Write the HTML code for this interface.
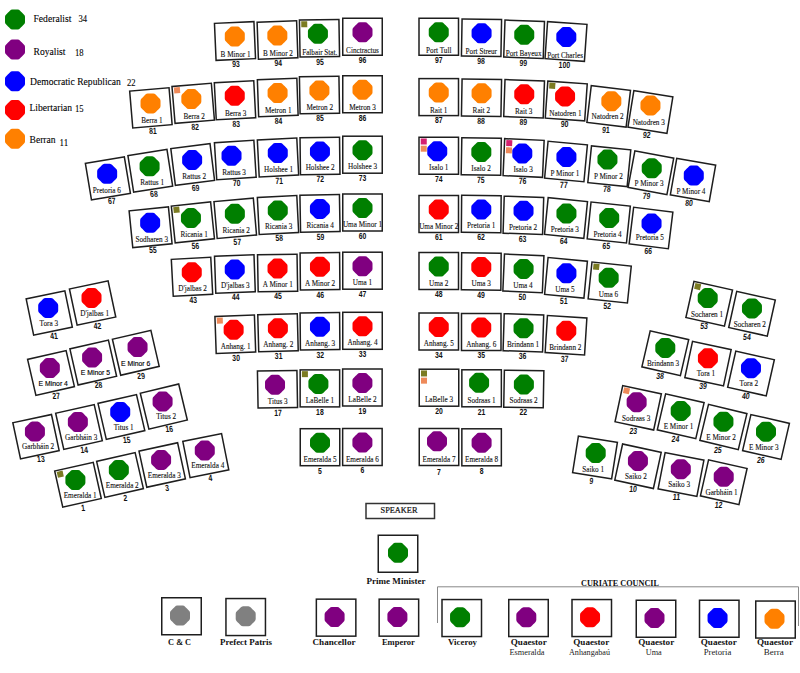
<!DOCTYPE html>
<html><head><meta charset="utf-8"><style>
html,body{margin:0;padding:0;background:#fff;}
svg{display:block;}
.bx{fill:#fff;stroke:#1e1e1e;stroke-width:1.5;}
.lb{font-family:"Liberation Serif",serif;font-size:8px;text-anchor:middle;fill:#111;stroke:#111;stroke-width:0.12;}
.ls{font-family:"Liberation Sans",sans-serif;font-size:7.5px;text-anchor:middle;fill:#000;stroke:#000;stroke-width:0.15;}
.nm{font-family:"Liberation Sans",sans-serif;font-weight:bold;font-size:9px;text-anchor:middle;fill:#111;}
.bl{font-family:"Liberation Serif",serif;font-weight:bold;font-size:8.6px;text-anchor:middle;fill:#111;}
.sb{font-family:"Liberation Serif",serif;font-size:9px;text-anchor:middle;fill:#222;}
.sp{font-family:"Liberation Serif",serif;font-size:8px;text-anchor:middle;fill:#111;stroke:#111;stroke-width:0.2;}
.cc{font-family:"Liberation Serif",serif;font-weight:bold;font-size:9px;fill:#111;}
.lg{font-family:"Liberation Serif",serif;font-size:10.5px;fill:#000;stroke:#000;stroke-width:0.1;}
</style></head><body>
<svg width="800" height="673" viewBox="0 0 800 673">
<defs><polygon id="oc" points="10.00,0.00 10.00,1.32 10.00,2.68 9.70,4.02 8.81,5.09 7.86,6.04 6.95,6.95 6.04,7.86 5.09,8.81 4.02,9.70 2.68,10.00 1.32,10.00 0.00,10.00 -1.32,10.00 -2.68,10.00 -4.02,9.70 -5.09,8.81 -6.04,7.86 -6.95,6.95 -7.86,6.04 -8.81,5.09 -9.70,4.02 -10.00,2.68 -10.00,1.32 -10.00,0.00 -10.00,-1.32 -10.00,-2.68 -9.70,-4.02 -8.81,-5.09 -7.86,-6.04 -6.95,-6.95 -6.04,-7.86 -5.09,-8.81 -4.02,-9.70 -2.68,-10.00 -1.32,-10.00 -0.00,-10.00 1.32,-10.00 2.68,-10.00 4.02,-9.70 5.09,-8.81 6.04,-7.86 6.95,-6.95 7.86,-6.04 8.81,-5.09 9.70,-4.02 10.00,-2.68 10.00,-1.32"/></defs>
<use href="#oc" x="15.00" y="19.50" fill="#007f00"/><text x="33.5" y="21.5" class="lg" textLength="37.9" lengthAdjust="spacingAndGlyphs">Federalist</text><text x="78.5" y="22.0" class="lg" textLength="8.6" lengthAdjust="spacingAndGlyphs">34</text><use href="#oc" x="15.00" y="49.50" fill="#800080"/><text x="33.5" y="54.5" class="lg" textLength="32.0" lengthAdjust="spacingAndGlyphs">Royalist</text><text x="75" y="56.0" class="lg" textLength="8.6" lengthAdjust="spacingAndGlyphs">18</text><use href="#oc" x="15.00" y="81.25" fill="#0000ff"/><text x="30" y="84.75" class="lg" textLength="90.9" lengthAdjust="spacingAndGlyphs">Democratic Republican</text><text x="127" y="85.75" class="lg" textLength="8.6" lengthAdjust="spacingAndGlyphs">22</text><use href="#oc" x="15.00" y="110.00" fill="#ff0000"/><text x="29.5" y="111.0" class="lg" textLength="42.6" lengthAdjust="spacingAndGlyphs">Libertarian</text><text x="75" y="112.0" class="lg" textLength="8.6" lengthAdjust="spacingAndGlyphs">15</text><use href="#oc" x="15.00" y="138.75" fill="#ff8000"/><text x="29.5" y="142.75" class="lg" textLength="26.1" lengthAdjust="spacingAndGlyphs">Berran</text><text x="59.5" y="145.75" class="lg" textLength="8.6" lengthAdjust="spacingAndGlyphs">11</text>
<g transform="translate(235,41) rotate(-2.5)"><rect x="-19.75" y="-18.5" width="39.5" height="37.0" class="bx"/><g transform="rotate(2.5 0 -4.5)"><use href="#oc" x="0.00" y="-4.50" fill="#ff8000"/></g><g transform="translate(0,13.5) rotate(2.5)"><text x="0" y="3" class="lb" textLength="30.0" lengthAdjust="spacingAndGlyphs">B Minor 1</text></g><g transform="translate(0,23.3) rotate(2.5) skewX(1.25)"><text x="0" y="3" class="nm" textLength="7.6" lengthAdjust="spacingAndGlyphs">93</text></g></g>
<g transform="translate(277.5,40) rotate(-2)"><rect x="-19.75" y="-18.5" width="39.5" height="37.0" class="bx"/><g transform="rotate(2 0 -4.5)"><use href="#oc" x="0.00" y="-4.50" fill="#ff8000"/></g><g transform="translate(0,13.5) rotate(2)"><text x="0" y="3" class="lb" textLength="30.0" lengthAdjust="spacingAndGlyphs">B Minor 2</text></g><g transform="translate(0,23.3) rotate(2) skewX(1.0)"><text x="0" y="3" class="nm" textLength="7.6" lengthAdjust="spacingAndGlyphs">94</text></g></g>
<g transform="translate(319.5,38.25) rotate(-1)"><rect x="-19.75" y="-18.5" width="39.5" height="37.0" class="bx"/><rect x="-18.0" y="-17.25" width="6" height="6" fill="#7b7b22"/><g transform="rotate(1 -1.5 -4.5)"><use href="#oc" x="-1.50" y="-4.50" fill="#007f00"/></g><g transform="translate(0,13.5) rotate(1)"><text x="0" y="3" class="lb" textLength="35.2" lengthAdjust="spacingAndGlyphs">Falbair Stat.</text></g><g transform="translate(0,23.3) rotate(1) skewX(0.5)"><text x="0" y="3" class="nm" textLength="7.6" lengthAdjust="spacingAndGlyphs">95</text></g></g>
<g transform="translate(362.5,36.75) rotate(0)"><rect x="-19.75" y="-18.5" width="39.5" height="37.0" class="bx"/><g transform="rotate(0 0 -4.5)"><use href="#oc" x="0.00" y="-4.50" fill="#800080"/></g><g transform="translate(0,13.5) rotate(0)"><text x="0" y="3" class="lb" textLength="32.8" lengthAdjust="spacingAndGlyphs">Cinctractus</text></g><g transform="translate(0,23.3) rotate(0) skewX(0.0)"><text x="0" y="3" class="nm" textLength="7.6" lengthAdjust="spacingAndGlyphs">96</text></g></g>
<g transform="translate(438.75,36.75) rotate(0)"><rect x="-19.75" y="-18.5" width="39.5" height="37.0" class="bx"/><g transform="rotate(0 0 -4.5)"><use href="#oc" x="0.00" y="-4.50" fill="#007f00"/></g><g transform="translate(0,13.5) rotate(0)"><text x="0" y="3" class="lb" textLength="25.4" lengthAdjust="spacingAndGlyphs">Port Tull</text></g><g transform="translate(0,23.3) rotate(0) skewX(0.0)"><text x="0" y="3" class="nm" textLength="7.6" lengthAdjust="spacingAndGlyphs">97</text></g></g>
<g transform="translate(481.5,37.75) rotate(1)"><rect x="-19.75" y="-18.5" width="39.5" height="37.0" class="bx"/><g transform="rotate(-1 0 -4.5)"><use href="#oc" x="0.00" y="-4.50" fill="#0000ff"/></g><g transform="translate(0,13.5) rotate(-1)"><text x="0" y="3" class="lb" textLength="31.4" lengthAdjust="spacingAndGlyphs">Port Streur</text></g><g transform="translate(0,23.3) rotate(-1) skewX(-0.5)"><text x="0" y="3" class="nm" textLength="7.6" lengthAdjust="spacingAndGlyphs">98</text></g></g>
<g transform="translate(524.1,39.25) rotate(2)"><rect x="-19.75" y="-18.5" width="39.5" height="37.0" class="bx"/><g transform="rotate(-2 0 -4.5)"><use href="#oc" x="0.00" y="-4.50" fill="#007f00"/></g><g transform="translate(0,13.5) rotate(-2)"><text x="0" y="3" class="lb" textLength="35.8" lengthAdjust="spacingAndGlyphs">Port Bayeux</text></g><g transform="translate(0,23.3) rotate(-2) skewX(-1.0)"><text x="0" y="3" class="nm" textLength="7.6" lengthAdjust="spacingAndGlyphs">99</text></g></g>
<g transform="translate(566,41.5) rotate(4)"><rect x="-19.75" y="-18.5" width="39.5" height="37.0" class="bx"/><g transform="rotate(-4 0 -4.5)"><use href="#oc" x="0.00" y="-4.50" fill="#0000ff"/></g><g transform="translate(0,13.5) rotate(-4)"><text x="0" y="3" class="lb" textLength="35.8" lengthAdjust="spacingAndGlyphs">Port Charles</text></g><g transform="translate(0,23.3) rotate(-4) skewX(-2.0)"><text x="0" y="3" class="nm" textLength="11.4" lengthAdjust="spacingAndGlyphs">100</text></g></g>
<g transform="translate(150.9,107.9) rotate(-4.8)"><rect x="-19.75" y="-18.5" width="39.5" height="37.0" class="bx"/><g transform="rotate(4.8 0 -4.5)"><use href="#oc" x="0.00" y="-4.50" fill="#ff8000"/></g><g transform="translate(0,12.5) rotate(4.8)"><text x="0" y="3" class="lb" textLength="21.4" lengthAdjust="spacingAndGlyphs">Berra 1</text></g><g transform="translate(0,23.3) rotate(4.8) skewX(2.4)"><text x="0" y="3" class="nm" textLength="7.6" lengthAdjust="spacingAndGlyphs">81</text></g></g>
<g transform="translate(193.2,103.3) rotate(-4.8)"><rect x="-19.75" y="-18.5" width="39.5" height="37.0" class="bx"/><rect x="-18.0" y="-17.25" width="6" height="6" fill="#ee8a5a"/><g transform="rotate(4.8 -1.5 -4.5)"><use href="#oc" x="-1.50" y="-4.50" fill="#ff8000"/></g><g transform="translate(0,12.5) rotate(4.8)"><text x="0" y="3" class="lb" textLength="21.4" lengthAdjust="spacingAndGlyphs">Berra 2</text></g><g transform="translate(0,23.3) rotate(4.8) skewX(2.4)"><text x="0" y="3" class="nm" textLength="7.6" lengthAdjust="spacingAndGlyphs">82</text></g></g>
<g transform="translate(235,100.25) rotate(-3)"><rect x="-19.75" y="-18.5" width="39.5" height="37.0" class="bx"/><g transform="rotate(3 0 -4.5)"><use href="#oc" x="0.00" y="-4.50" fill="#ff0000"/></g><g transform="translate(0,12.5) rotate(3)"><text x="0" y="3" class="lb" textLength="21.4" lengthAdjust="spacingAndGlyphs">Berra 3</text></g><g transform="translate(0,23.3) rotate(3) skewX(1.5)"><text x="0" y="3" class="nm" textLength="7.6" lengthAdjust="spacingAndGlyphs">83</text></g></g>
<g transform="translate(277.75,97.5) rotate(-2)"><rect x="-19.75" y="-18.5" width="39.5" height="37.0" class="bx"/><g transform="rotate(2 0 -4.5)"><use href="#oc" x="0.00" y="-4.50" fill="#ff8000"/></g><g transform="translate(0,12.5) rotate(2)"><text x="0" y="3" class="lb" textLength="26.6" lengthAdjust="spacingAndGlyphs">Metron 1</text></g><g transform="translate(0,23.3) rotate(2) skewX(1.0)"><text x="0" y="3" class="nm" textLength="7.6" lengthAdjust="spacingAndGlyphs">84</text></g></g>
<g transform="translate(319.5,95) rotate(-1)"><rect x="-19.75" y="-18.5" width="39.5" height="37.0" class="bx"/><g transform="rotate(1 0 -4.5)"><use href="#oc" x="0.00" y="-4.50" fill="#ff8000"/></g><g transform="translate(0,12.5) rotate(1)"><text x="0" y="3" class="lb" textLength="26.6" lengthAdjust="spacingAndGlyphs">Metron 2</text></g><g transform="translate(0,23.3) rotate(1) skewX(0.5)"><text x="0" y="3" class="nm" textLength="7.6" lengthAdjust="spacingAndGlyphs">85</text></g></g>
<g transform="translate(362.5,94.25) rotate(0)"><rect x="-19.75" y="-18.5" width="39.5" height="37.0" class="bx"/><g transform="rotate(0 0 -4.5)"><use href="#oc" x="0.00" y="-4.50" fill="#ff8000"/></g><g transform="translate(0,12.5) rotate(0)"><text x="0" y="3" class="lb" textLength="26.6" lengthAdjust="spacingAndGlyphs">Metron 3</text></g><g transform="translate(0,23.3) rotate(0) skewX(0.0)"><text x="0" y="3" class="nm" textLength="7.6" lengthAdjust="spacingAndGlyphs">86</text></g></g>
<g transform="translate(438.75,97.1) rotate(0)"><rect x="-19.75" y="-18.5" width="39.5" height="37.0" class="bx"/><g transform="rotate(0 0 -4.5)"><use href="#oc" x="0.00" y="-4.50" fill="#ff8000"/></g><g transform="translate(0,12.5) rotate(0)"><text x="0" y="3" class="lb" textLength="17.4" lengthAdjust="spacingAndGlyphs">Rait 1</text></g><g transform="translate(0,23.3) rotate(0) skewX(0.0)"><text x="0" y="3" class="nm" textLength="7.6" lengthAdjust="spacingAndGlyphs">87</text></g></g>
<g transform="translate(481.5,97.75) rotate(1)"><rect x="-19.75" y="-18.5" width="39.5" height="37.0" class="bx"/><g transform="rotate(-1 0 -4.5)"><use href="#oc" x="0.00" y="-4.50" fill="#ff8000"/></g><g transform="translate(0,12.5) rotate(-1)"><text x="0" y="3" class="lb" textLength="17.4" lengthAdjust="spacingAndGlyphs">Rait 2</text></g><g transform="translate(0,23.3) rotate(-1) skewX(-0.5)"><text x="0" y="3" class="nm" textLength="7.6" lengthAdjust="spacingAndGlyphs">88</text></g></g>
<g transform="translate(524.1,98.75) rotate(2)"><rect x="-19.75" y="-18.5" width="39.5" height="37.0" class="bx"/><g transform="rotate(-2 0 -4.5)"><use href="#oc" x="0.00" y="-4.50" fill="#ff0000"/></g><g transform="translate(0,12.5) rotate(-2)"><text x="0" y="3" class="lb" textLength="17.4" lengthAdjust="spacingAndGlyphs">Rait 3</text></g><g transform="translate(0,23.3) rotate(-2) skewX(-1.0)"><text x="0" y="3" class="nm" textLength="7.6" lengthAdjust="spacingAndGlyphs">89</text></g></g>
<g transform="translate(566.25,101) rotate(4)"><rect x="-19.75" y="-18.5" width="39.5" height="37.0" class="bx"/><rect x="-18.0" y="-17.25" width="6" height="6" fill="#7b7b22"/><g transform="rotate(-4 -1.5 -4.5)"><use href="#oc" x="-1.50" y="-4.50" fill="#ff0000"/></g><g transform="translate(0,12.5) rotate(-4)"><text x="0" y="3" class="lb" textLength="32.2" lengthAdjust="spacingAndGlyphs">Natodren 1</text></g><g transform="translate(0,23.3) rotate(-4) skewX(-2.0)"><text x="0" y="3" class="nm" textLength="7.6" lengthAdjust="spacingAndGlyphs">90</text></g></g>
<g transform="translate(608.7,106.4) rotate(6.8)"><rect x="-19.75" y="-18.5" width="39.5" height="37.0" class="bx"/><g transform="rotate(-6.8 2 -5.5)"><use href="#oc" x="2.00" y="-5.50" fill="#ff8000"/></g><g transform="translate(0,9.5) rotate(-6.8)"><text x="0" y="3" class="lb" textLength="32.2" lengthAdjust="spacingAndGlyphs">Natodren 2</text></g><g transform="translate(0,23.3) rotate(-6.8) skewX(-3.4)"><text x="0" y="3" class="nm" textLength="7.6" lengthAdjust="spacingAndGlyphs">91</text></g></g>
<g transform="translate(650.4,112) rotate(9.2)"><rect x="-19.75" y="-18.5" width="39.5" height="37.0" class="bx"/><g transform="rotate(-9.2 -1 -6.5)"><use href="#oc" x="-1.00" y="-6.50" fill="#ff8000"/></g><g transform="translate(0,10.5) rotate(-9.2)"><text x="0" y="3" class="lb" textLength="32.2" lengthAdjust="spacingAndGlyphs">Natodren 3</text></g><g transform="translate(0,23.3) rotate(-9.2) skewX(-4.6)"><text x="0" y="3" class="nm" textLength="7.6" lengthAdjust="spacingAndGlyphs">92</text></g></g>
<g transform="translate(107.9,178.3) rotate(-9.5)"><rect x="-19.75" y="-18.5" width="39.5" height="37.0" class="bx"/><g transform="rotate(9.5 0 -4.5)"><use href="#oc" x="0.00" y="-4.50" fill="#0000ff"/></g><g transform="translate(-3,11.5) rotate(9.5)"><text x="0" y="3" class="lb" textLength="28.2" lengthAdjust="spacingAndGlyphs">Pretoria 6</text></g><g transform="translate(0,23.3) rotate(9.5) skewX(4.75)"><text x="0" y="3" class="nm" textLength="7.6" lengthAdjust="spacingAndGlyphs">67</text></g></g>
<g transform="translate(150.3,170.8) rotate(-8.9)"><rect x="-19.75" y="-18.5" width="39.5" height="37.0" class="bx"/><g transform="rotate(8.9 0 -4.5)"><use href="#oc" x="0.00" y="-4.50" fill="#007f00"/></g><g transform="translate(0,11.5) rotate(8.9)"><text x="0" y="3" class="lb" textLength="23.8" lengthAdjust="spacingAndGlyphs">Rattus 1</text></g><g transform="translate(0,23.3) rotate(8.9) skewX(4.45)"><text x="0" y="3" class="nm" textLength="7.6" lengthAdjust="spacingAndGlyphs">68</text></g></g>
<g transform="translate(192.7,164.5) rotate(-7.1)"><rect x="-19.75" y="-18.5" width="39.5" height="37.0" class="bx"/><g transform="rotate(7.1 0 -4.5)"><use href="#oc" x="0.00" y="-4.50" fill="#0000ff"/></g><g transform="translate(0,11.5) rotate(7.1)"><text x="0" y="3" class="lb" textLength="23.8" lengthAdjust="spacingAndGlyphs">Rattus 2</text></g><g transform="translate(0,23.3) rotate(7.1) skewX(3.55)"><text x="0" y="3" class="nm" textLength="7.6" lengthAdjust="spacingAndGlyphs">69</text></g></g>
<g transform="translate(235.3,160) rotate(-3.6)"><rect x="-19.75" y="-18.5" width="39.5" height="37.0" class="bx"/><g transform="rotate(3.6 -3.5 -4.5)"><use href="#oc" x="-3.50" y="-4.50" fill="#0000ff"/></g><g transform="translate(-2,11.5) rotate(3.6)"><text x="0" y="3" class="lb" textLength="23.8" lengthAdjust="spacingAndGlyphs">Rattus 3</text></g><g transform="translate(0,23.3) rotate(3.6) skewX(1.8)"><text x="0" y="3" class="nm" textLength="7.6" lengthAdjust="spacingAndGlyphs">70</text></g></g>
<g transform="translate(278,157.5) rotate(-2.9)"><rect x="-19.75" y="-18.5" width="39.5" height="37.0" class="bx"/><g transform="rotate(2.9 0 -4.5)"><use href="#oc" x="0.00" y="-4.50" fill="#0000ff"/></g><g transform="translate(0,11.5) rotate(2.9)"><text x="0" y="3" class="lb" textLength="29.0" lengthAdjust="spacingAndGlyphs">Holshee 1</text></g><g transform="translate(0,23.3) rotate(2.9) skewX(1.45)"><text x="0" y="3" class="nm" textLength="7.6" lengthAdjust="spacingAndGlyphs">71</text></g></g>
<g transform="translate(320,156) rotate(-0.7)"><rect x="-19.75" y="-18.5" width="39.5" height="37.0" class="bx"/><g transform="rotate(0.7 0 -4.5)"><use href="#oc" x="0.00" y="-4.50" fill="#0000ff"/></g><g transform="translate(0,11.5) rotate(0.7)"><text x="0" y="3" class="lb" textLength="29.0" lengthAdjust="spacingAndGlyphs">Holshee 2</text></g><g transform="translate(0,23.3) rotate(0.7) skewX(0.35)"><text x="0" y="3" class="nm" textLength="7.6" lengthAdjust="spacingAndGlyphs">72</text></g></g>
<g transform="translate(362.5,154.7) rotate(0)"><rect x="-19.75" y="-18.5" width="39.5" height="37.0" class="bx"/><g transform="rotate(0 0 -4.5)"><use href="#oc" x="0.00" y="-4.50" fill="#007f00"/></g><g transform="translate(0,11.5) rotate(0)"><text x="0" y="3" class="lb" textLength="29.0" lengthAdjust="spacingAndGlyphs">Holshee 3</text></g><g transform="translate(0,23.3) rotate(0) skewX(0.0)"><text x="0" y="3" class="nm" textLength="7.6" lengthAdjust="spacingAndGlyphs">73</text></g></g>
<g transform="translate(438.75,155.75) rotate(0)"><rect x="-19.75" y="-18.5" width="39.5" height="37.0" class="bx"/><rect x="-18.0" y="-17.25" width="6" height="6" fill="#d42070"/><rect x="-18.0" y="-10.05" width="6" height="6" fill="#ee8a5a"/><g transform="rotate(0 -1.5 -4.5)"><use href="#oc" x="-1.50" y="-4.50" fill="#0000ff"/></g><g transform="translate(0,11.5) rotate(0)"><text x="0" y="3" class="lb" textLength="19.4" lengthAdjust="spacingAndGlyphs">Isalo 1</text></g><g transform="translate(0,23.3) rotate(0) skewX(0.0)"><text x="0" y="3" class="nm" textLength="7.6" lengthAdjust="spacingAndGlyphs">74</text></g></g>
<g transform="translate(481.25,156.5) rotate(1)"><rect x="-19.75" y="-18.5" width="39.5" height="37.0" class="bx"/><g transform="rotate(-1 0 -4.5)"><use href="#oc" x="0.00" y="-4.50" fill="#007f00"/></g><g transform="translate(0,11.5) rotate(-1)"><text x="0" y="3" class="lb" textLength="19.4" lengthAdjust="spacingAndGlyphs">Isalo 2</text></g><g transform="translate(0,23.3) rotate(-1) skewX(-0.5)"><text x="0" y="3" class="nm" textLength="7.6" lengthAdjust="spacingAndGlyphs">75</text></g></g>
<g transform="translate(523.6,158) rotate(2.5)"><rect x="-19.75" y="-18.5" width="39.5" height="37.0" class="bx"/><rect x="-18.0" y="-17.25" width="6" height="6" fill="#d42070"/><rect x="-18.0" y="-10.05" width="6" height="6" fill="#ee8a5a"/><g transform="rotate(-2.5 -1.5 -4.5)"><use href="#oc" x="-1.50" y="-4.50" fill="#0000ff"/></g><g transform="translate(0,11.5) rotate(-2.5)"><text x="0" y="3" class="lb" textLength="19.4" lengthAdjust="spacingAndGlyphs">Isalo 3</text></g><g transform="translate(0,23.3) rotate(-2.5) skewX(-1.25)"><text x="0" y="3" class="nm" textLength="7.6" lengthAdjust="spacingAndGlyphs">76</text></g></g>
<g transform="translate(566,161.5) rotate(5.4)"><rect x="-19.75" y="-18.5" width="39.5" height="37.0" class="bx"/><g transform="rotate(-5.4 0 -4.5)"><use href="#oc" x="0.00" y="-4.50" fill="#0000ff"/></g><g transform="translate(0,11.5) rotate(-5.4)"><text x="0" y="3" class="lb" textLength="28.9" lengthAdjust="spacingAndGlyphs">P Minor 1</text></g><g transform="translate(0,23.3) rotate(-5.4) skewX(-2.7)"><text x="0" y="3" class="nm" textLength="7.6" lengthAdjust="spacingAndGlyphs">77</text></g></g>
<g transform="translate(609.3,166.25) rotate(5.7)"><rect x="-19.75" y="-18.5" width="39.5" height="37.0" class="bx"/><g transform="rotate(-5.7 -2.5 -6.5)"><use href="#oc" x="-2.50" y="-6.50" fill="#007f00"/></g><g transform="translate(0,9.5) rotate(-5.7)"><text x="0" y="3" class="lb" textLength="28.9" lengthAdjust="spacingAndGlyphs">P Minor 2</text></g><g transform="translate(0,23.3) rotate(-5.7) skewX(-2.85)"><text x="0" y="3" class="nm" textLength="7.6" lengthAdjust="spacingAndGlyphs">78</text></g></g>
<g transform="translate(650.9,172.75) rotate(10.6)"><rect x="-19.75" y="-18.5" width="39.5" height="37.0" class="bx"/><g transform="rotate(-10.6 0 -4.5)"><use href="#oc" x="0.00" y="-4.50" fill="#007f00"/></g><g transform="translate(0,10.0) rotate(-10.6)"><text x="0" y="3" class="lb" textLength="28.9" lengthAdjust="spacingAndGlyphs">P Minor 3</text></g><g transform="translate(0,23.3) rotate(-10.6) skewX(-5.3)"><text x="0" y="3" class="nm" textLength="7.6" lengthAdjust="spacingAndGlyphs">79</text></g></g>
<g transform="translate(693,180) rotate(10)"><rect x="-19.75" y="-18.5" width="39.5" height="37.0" class="bx"/><g transform="rotate(-10 0 -4.5)"><use href="#oc" x="0.00" y="-4.50" fill="#0000ff"/></g><g transform="translate(0,11.5) rotate(-10)"><text x="0" y="3" class="lb" textLength="28.9" lengthAdjust="spacingAndGlyphs">P Minor 4</text></g><g transform="translate(0,23.3) rotate(-10) skewX(-5.0)"><text x="0" y="3" class="nm" textLength="7.6" lengthAdjust="spacingAndGlyphs">80</text></g></g>
<g transform="translate(150.6,227.3) rotate(-5.7)"><rect x="-19.75" y="-18.5" width="39.5" height="37.0" class="bx"/><g transform="rotate(5.7 0 -4.5)"><use href="#oc" x="0.00" y="-4.50" fill="#0000ff"/></g><g transform="translate(0,11.5) rotate(5.7)"><text x="0" y="3" class="lb" textLength="32.6" lengthAdjust="spacingAndGlyphs">Sodharen 3</text></g><g transform="translate(0,23.3) rotate(5.7) skewX(2.85)"><text x="0" y="3" class="nm" textLength="7.6" lengthAdjust="spacingAndGlyphs">55</text></g></g>
<g transform="translate(192.9,222.4) rotate(-6)"><rect x="-19.75" y="-18.5" width="39.5" height="37.0" class="bx"/><rect x="-18.0" y="-17.25" width="6" height="6" fill="#7b7b22"/><g transform="rotate(6 -1.5 -4.5)"><use href="#oc" x="-1.50" y="-4.50" fill="#007f00"/></g><g transform="translate(0,11.5) rotate(6)"><text x="0" y="3" class="lb" textLength="27.4" lengthAdjust="spacingAndGlyphs">Ricania 1</text></g><g transform="translate(0,23.3) rotate(6) skewX(3.0)"><text x="0" y="3" class="nm" textLength="7.6" lengthAdjust="spacingAndGlyphs">56</text></g></g>
<g transform="translate(235.25,218.3) rotate(-5)"><rect x="-19.75" y="-18.5" width="39.5" height="37.0" class="bx"/><g transform="rotate(5 0 -4.5)"><use href="#oc" x="0.00" y="-4.50" fill="#007f00"/></g><g transform="translate(0,11.5) rotate(5)"><text x="0" y="3" class="lb" textLength="27.4" lengthAdjust="spacingAndGlyphs">Ricania 2</text></g><g transform="translate(0,23.3) rotate(5) skewX(2.5)"><text x="0" y="3" class="nm" textLength="7.6" lengthAdjust="spacingAndGlyphs">57</text></g></g>
<g transform="translate(278,215) rotate(-2.9)"><rect x="-19.75" y="-18.5" width="39.5" height="37.0" class="bx"/><g transform="rotate(2.9 0 -4.5)"><use href="#oc" x="0.00" y="-4.50" fill="#007f00"/></g><g transform="translate(0,11.5) rotate(2.9)"><text x="0" y="3" class="lb" textLength="27.4" lengthAdjust="spacingAndGlyphs">Ricania 3</text></g><g transform="translate(0,23.3) rotate(2.9) skewX(1.45)"><text x="0" y="3" class="nm" textLength="7.6" lengthAdjust="spacingAndGlyphs">58</text></g></g>
<g transform="translate(320,213.4) rotate(-1)"><rect x="-19.75" y="-18.5" width="39.5" height="37.0" class="bx"/><g transform="rotate(1 0 -4.5)"><use href="#oc" x="0.00" y="-4.50" fill="#0000ff"/></g><g transform="translate(0,11.5) rotate(1)"><text x="0" y="3" class="lb" textLength="27.4" lengthAdjust="spacingAndGlyphs">Ricania 4</text></g><g transform="translate(0,23.3) rotate(1) skewX(0.5)"><text x="0" y="3" class="nm" textLength="7.6" lengthAdjust="spacingAndGlyphs">59</text></g></g>
<g transform="translate(362.5,212.5) rotate(0)"><rect x="-19.75" y="-18.5" width="39.5" height="37.0" class="bx"/><g transform="rotate(0 0 -4.5)"><use href="#oc" x="0.00" y="-4.50" fill="#007f00"/></g><g transform="translate(0,11.5) rotate(0)"><text x="0" y="3" class="lb" textLength="39.2" lengthAdjust="spacingAndGlyphs">Uma Minor 1</text></g><g transform="translate(0,23.3) rotate(0) skewX(0.0)"><text x="0" y="3" class="nm" textLength="7.6" lengthAdjust="spacingAndGlyphs">60</text></g></g>
<g transform="translate(438.75,214) rotate(0)"><rect x="-19.75" y="-18.5" width="39.5" height="37.0" class="bx"/><g transform="rotate(0 0 -4.5)"><use href="#oc" x="0.00" y="-4.50" fill="#ff0000"/></g><g transform="translate(0,11.5) rotate(0)"><text x="0" y="3" class="lb" textLength="39.2" lengthAdjust="spacingAndGlyphs">Uma Minor 2</text></g><g transform="translate(0,23.3) rotate(0) skewX(0.0)"><text x="0" y="3" class="nm" textLength="7.6" lengthAdjust="spacingAndGlyphs">61</text></g></g>
<g transform="translate(481.25,214) rotate(0.5)"><rect x="-19.75" y="-18.5" width="39.5" height="37.0" class="bx"/><g transform="rotate(-0.5 0 -4.5)"><use href="#oc" x="0.00" y="-4.50" fill="#0000ff"/></g><g transform="translate(0,11.5) rotate(-0.5)"><text x="0" y="3" class="lb" textLength="28.2" lengthAdjust="spacingAndGlyphs">Pretoria 1</text></g><g transform="translate(0,23.3) rotate(-0.5) skewX(-0.25)"><text x="0" y="3" class="nm" textLength="7.6" lengthAdjust="spacingAndGlyphs">62</text></g></g>
<g transform="translate(523.4,215.3) rotate(1.8)"><rect x="-19.75" y="-18.5" width="39.5" height="37.0" class="bx"/><g transform="rotate(-1.8 0 -4.5)"><use href="#oc" x="0.00" y="-4.50" fill="#0000ff"/></g><g transform="translate(0,11.5) rotate(-1.8)"><text x="0" y="3" class="lb" textLength="28.2" lengthAdjust="spacingAndGlyphs">Pretoria 2</text></g><g transform="translate(0,23.3) rotate(-1.8) skewX(-0.9)"><text x="0" y="3" class="nm" textLength="7.6" lengthAdjust="spacingAndGlyphs">63</text></g></g>
<g transform="translate(566,218) rotate(5.7)"><rect x="-19.75" y="-18.5" width="39.5" height="37.0" class="bx"/><g transform="rotate(-5.7 0 -4.5)"><use href="#oc" x="0.00" y="-4.50" fill="#007f00"/></g><g transform="translate(0,11.5) rotate(-5.7)"><text x="0" y="3" class="lb" textLength="28.2" lengthAdjust="spacingAndGlyphs">Pretoria 3</text></g><g transform="translate(0,23.3) rotate(-5.7) skewX(-2.85)"><text x="0" y="3" class="nm" textLength="7.6" lengthAdjust="spacingAndGlyphs">64</text></g></g>
<g transform="translate(608.75,222.5) rotate(6)"><rect x="-19.75" y="-18.5" width="39.5" height="37.0" class="bx"/><g transform="rotate(-6 0 -4.5)"><use href="#oc" x="0.00" y="-4.50" fill="#007f00"/></g><g transform="translate(0,11.5) rotate(-6)"><text x="0" y="3" class="lb" textLength="28.2" lengthAdjust="spacingAndGlyphs">Pretoria 4</text></g><g transform="translate(0,23.3) rotate(-6) skewX(-3.0)"><text x="0" y="3" class="nm" textLength="7.6" lengthAdjust="spacingAndGlyphs">65</text></g></g>
<g transform="translate(651,228) rotate(7)"><rect x="-19.75" y="-18.5" width="39.5" height="37.0" class="bx"/><g transform="rotate(-7 0 -4.5)"><use href="#oc" x="0.00" y="-4.50" fill="#0000ff"/></g><g transform="translate(0,9.5) rotate(-7)"><text x="0" y="3" class="lb" textLength="28.2" lengthAdjust="spacingAndGlyphs">Pretoria 5</text></g><g transform="translate(0,23.3) rotate(-7) skewX(-3.5)"><text x="0" y="3" class="nm" textLength="7.6" lengthAdjust="spacingAndGlyphs">66</text></g></g>
<g transform="translate(192,276.8) rotate(-3)"><rect x="-19.75" y="-18.5" width="39.5" height="37.0" class="bx"/><g transform="rotate(3 0 -4.5)"><use href="#oc" x="0.00" y="-4.50" fill="#ff0000"/></g><g transform="translate(0,11.5) rotate(3)"><text x="0" y="3" class="lb" textLength="28.7" lengthAdjust="spacingAndGlyphs">D&#39;jalbas 2</text></g><g transform="translate(0,23.3) rotate(3) skewX(1.5)"><text x="0" y="3" class="nm" textLength="7.6" lengthAdjust="spacingAndGlyphs">43</text></g></g>
<g transform="translate(234.9,274) rotate(-2)"><rect x="-19.75" y="-18.5" width="39.5" height="37.0" class="bx"/><g transform="rotate(2 0 -4.5)"><use href="#oc" x="0.00" y="-4.50" fill="#0000ff"/></g><g transform="translate(0,11.5) rotate(2)"><text x="0" y="3" class="lb" textLength="28.7" lengthAdjust="spacingAndGlyphs">D&#39;jalbas 3</text></g><g transform="translate(0,23.3) rotate(2) skewX(1.0)"><text x="0" y="3" class="nm" textLength="7.6" lengthAdjust="spacingAndGlyphs">44</text></g></g>
<g transform="translate(277.6,273) rotate(-1)"><rect x="-19.75" y="-18.5" width="39.5" height="37.0" class="bx"/><g transform="rotate(1 0 -4.5)"><use href="#oc" x="0.00" y="-4.50" fill="#ff0000"/></g><g transform="translate(0,11.5) rotate(1)"><text x="0" y="3" class="lb" textLength="30.0" lengthAdjust="spacingAndGlyphs">A Minor 1</text></g><g transform="translate(0,23.3) rotate(1) skewX(0.5)"><text x="0" y="3" class="nm" textLength="7.6" lengthAdjust="spacingAndGlyphs">45</text></g></g>
<g transform="translate(320,271.25) rotate(-0.5)"><rect x="-19.75" y="-18.5" width="39.5" height="37.0" class="bx"/><g transform="rotate(0.5 0 -4.5)"><use href="#oc" x="0.00" y="-4.50" fill="#ff0000"/></g><g transform="translate(0,11.5) rotate(0.5)"><text x="0" y="3" class="lb" textLength="30.0" lengthAdjust="spacingAndGlyphs">A Minor 2</text></g><g transform="translate(0,23.3) rotate(0.5) skewX(0.25)"><text x="0" y="3" class="nm" textLength="7.6" lengthAdjust="spacingAndGlyphs">46</text></g></g>
<g transform="translate(362.5,270.7) rotate(0)"><rect x="-19.75" y="-18.5" width="39.5" height="37.0" class="bx"/><g transform="rotate(0 0 -4.5)"><use href="#oc" x="0.00" y="-4.50" fill="#800080"/></g><g transform="translate(0,11.5) rotate(0)"><text x="0" y="3" class="lb" textLength="19.4" lengthAdjust="spacingAndGlyphs">Uma 1</text></g><g transform="translate(0,23.3) rotate(0) skewX(0.0)"><text x="0" y="3" class="nm" textLength="7.6" lengthAdjust="spacingAndGlyphs">47</text></g></g>
<g transform="translate(438.75,271) rotate(0)"><rect x="-19.75" y="-18.5" width="39.5" height="37.0" class="bx"/><g transform="rotate(0 0 -4.5)"><use href="#oc" x="0.00" y="-4.50" fill="#007f00"/></g><g transform="translate(0,11.5) rotate(0)"><text x="0" y="3" class="lb" textLength="19.4" lengthAdjust="spacingAndGlyphs">Uma 2</text></g><g transform="translate(0,23.3) rotate(0) skewX(0.0)"><text x="0" y="3" class="nm" textLength="7.6" lengthAdjust="spacingAndGlyphs">48</text></g></g>
<g transform="translate(481.25,271.5) rotate(0.5)"><rect x="-19.75" y="-18.5" width="39.5" height="37.0" class="bx"/><g transform="rotate(-0.5 0 -4.5)"><use href="#oc" x="0.00" y="-4.50" fill="#ff0000"/></g><g transform="translate(0,11.5) rotate(-0.5)"><text x="0" y="3" class="lb" textLength="19.4" lengthAdjust="spacingAndGlyphs">Uma 3</text></g><g transform="translate(0,23.3) rotate(-0.5) skewX(-0.25)"><text x="0" y="3" class="nm" textLength="7.6" lengthAdjust="spacingAndGlyphs">49</text></g></g>
<g transform="translate(523.4,273.4) rotate(2.5)"><rect x="-19.75" y="-18.5" width="39.5" height="37.0" class="bx"/><g transform="rotate(-2.5 0 -4.5)"><use href="#oc" x="0.00" y="-4.50" fill="#007f00"/></g><g transform="translate(0,11.5) rotate(-2.5)"><text x="0" y="3" class="lb" textLength="19.4" lengthAdjust="spacingAndGlyphs">Uma 4</text></g><g transform="translate(0,23.3) rotate(-2.5) skewX(-1.25)"><text x="0" y="3" class="nm" textLength="7.6" lengthAdjust="spacingAndGlyphs">50</text></g></g>
<g transform="translate(566,277.8) rotate(5.4)"><rect x="-19.75" y="-18.5" width="39.5" height="37.0" class="bx"/><g transform="rotate(-5.4 0 -4.5)"><use href="#oc" x="0.00" y="-4.50" fill="#0000ff"/></g><g transform="translate(0,11.5) rotate(-5.4)"><text x="0" y="3" class="lb" textLength="19.4" lengthAdjust="spacingAndGlyphs">Uma 5</text></g><g transform="translate(0,23.3) rotate(-5.4) skewX(-2.7)"><text x="0" y="3" class="nm" textLength="7.6" lengthAdjust="spacingAndGlyphs">51</text></g></g>
<g transform="translate(609.7,282.5) rotate(6)"><rect x="-19.75" y="-18.5" width="39.5" height="37.0" class="bx"/><rect x="-18.0" y="-17.25" width="6" height="6" fill="#7b7b22"/><g transform="rotate(-6 -1.5 -4.5)"><use href="#oc" x="-1.50" y="-4.50" fill="#007f00"/></g><g transform="translate(0,11.5) rotate(-6)"><text x="0" y="3" class="lb" textLength="19.4" lengthAdjust="spacingAndGlyphs">Uma 6</text></g><g transform="translate(0,23.3) rotate(-6) skewX(-3.0)"><text x="0" y="3" class="nm" textLength="7.6" lengthAdjust="spacingAndGlyphs">52</text></g></g>
<g transform="translate(235.3,334.25) rotate(-2)"><rect x="-19.75" y="-18.5" width="39.5" height="37.0" class="bx"/><rect x="-18.0" y="-17.25" width="6" height="6" fill="#ee8a5a"/><g transform="rotate(2 -1.5 -4.5)"><use href="#oc" x="-1.50" y="-4.50" fill="#ff0000"/></g><g transform="translate(0,11.5) rotate(2)"><text x="0" y="3" class="lb" textLength="30.0" lengthAdjust="spacingAndGlyphs">Anhang. 1</text></g><g transform="translate(0,23.3) rotate(2) skewX(1.0)"><text x="0" y="3" class="nm" textLength="7.6" lengthAdjust="spacingAndGlyphs">30</text></g></g>
<g transform="translate(278,332.8) rotate(-1.5)"><rect x="-19.75" y="-18.5" width="39.5" height="37.0" class="bx"/><g transform="rotate(1.5 0 -4.5)"><use href="#oc" x="0.00" y="-4.50" fill="#ff0000"/></g><g transform="translate(0,11.5) rotate(1.5)"><text x="0" y="3" class="lb" textLength="30.0" lengthAdjust="spacingAndGlyphs">Anhang. 2</text></g><g transform="translate(0,23.3) rotate(1.5) skewX(0.75)"><text x="0" y="3" class="nm" textLength="7.6" lengthAdjust="spacingAndGlyphs">31</text></g></g>
<g transform="translate(320,331.25) rotate(-0.5)"><rect x="-19.75" y="-18.5" width="39.5" height="37.0" class="bx"/><g transform="rotate(0.5 0 -4.5)"><use href="#oc" x="0.00" y="-4.50" fill="#0000ff"/></g><g transform="translate(0,11.5) rotate(0.5)"><text x="0" y="3" class="lb" textLength="30.0" lengthAdjust="spacingAndGlyphs">Anhang. 3</text></g><g transform="translate(0,23.3) rotate(0.5) skewX(0.25)"><text x="0" y="3" class="nm" textLength="7.6" lengthAdjust="spacingAndGlyphs">32</text></g></g>
<g transform="translate(362.5,330.8) rotate(0)"><rect x="-19.75" y="-18.5" width="39.5" height="37.0" class="bx"/><g transform="rotate(0 0 -4.5)"><use href="#oc" x="0.00" y="-4.50" fill="#ff0000"/></g><g transform="translate(0,11.5) rotate(0)"><text x="0" y="3" class="lb" textLength="30.0" lengthAdjust="spacingAndGlyphs">Anhang. 4</text></g><g transform="translate(0,23.3) rotate(0) skewX(0.0)"><text x="0" y="3" class="nm" textLength="7.6" lengthAdjust="spacingAndGlyphs">33</text></g></g>
<g transform="translate(438.75,331.5) rotate(0)"><rect x="-19.75" y="-18.5" width="39.5" height="37.0" class="bx"/><g transform="rotate(0 0 -4.5)"><use href="#oc" x="0.00" y="-4.50" fill="#ff0000"/></g><g transform="translate(0,11.5) rotate(0)"><text x="0" y="3" class="lb" textLength="30.0" lengthAdjust="spacingAndGlyphs">Anhang. 5</text></g><g transform="translate(0,23.3) rotate(0) skewX(0.0)"><text x="0" y="3" class="nm" textLength="7.6" lengthAdjust="spacingAndGlyphs">34</text></g></g>
<g transform="translate(481.25,332) rotate(0)"><rect x="-19.75" y="-18.5" width="39.5" height="37.0" class="bx"/><g transform="rotate(0 0 -4.5)"><use href="#oc" x="0.00" y="-4.50" fill="#ff0000"/></g><g transform="translate(0,11.5) rotate(0)"><text x="0" y="3" class="lb" textLength="30.0" lengthAdjust="spacingAndGlyphs">Anhang. 6</text></g><g transform="translate(0,23.3) rotate(0) skewX(0.0)"><text x="0" y="3" class="nm" textLength="7.6" lengthAdjust="spacingAndGlyphs">35</text></g></g>
<g transform="translate(523.4,332.8) rotate(1.8)"><rect x="-19.75" y="-18.5" width="39.5" height="37.0" class="bx"/><g transform="rotate(-1.8 0 -4.5)"><use href="#oc" x="0.00" y="-4.50" fill="#007f00"/></g><g transform="translate(0,11.5) rotate(-1.8)"><text x="0" y="3" class="lb" textLength="32.2" lengthAdjust="spacingAndGlyphs">Brindann 1</text></g><g transform="translate(0,23.3) rotate(-1.8) skewX(-0.9)"><text x="0" y="3" class="nm" textLength="7.6" lengthAdjust="spacingAndGlyphs">36</text></g></g>
<g transform="translate(566,335.25) rotate(3.6)"><rect x="-19.75" y="-18.5" width="39.5" height="37.0" class="bx"/><g transform="rotate(-3.6 0 -4.5)"><use href="#oc" x="0.00" y="-4.50" fill="#ff0000"/></g><g transform="translate(0,11.5) rotate(-3.6)"><text x="0" y="3" class="lb" textLength="32.2" lengthAdjust="spacingAndGlyphs">Brindann 2</text></g><g transform="translate(0,23.3) rotate(-3.6) skewX(-1.8)"><text x="0" y="3" class="nm" textLength="7.6" lengthAdjust="spacingAndGlyphs">37</text></g></g>
<g transform="translate(277.5,389.25) rotate(-1)"><rect x="-19.75" y="-18.5" width="39.5" height="37.0" class="bx"/><g transform="rotate(1 -2.4 -4.5)"><use href="#oc" x="-2.40" y="-4.50" fill="#800080"/></g><g transform="translate(0,11.5) rotate(1)"><text x="0" y="3" class="lb" textLength="19.9" lengthAdjust="spacingAndGlyphs">Titus 3</text></g><g transform="translate(0,23.3) rotate(1) skewX(0.5)"><text x="0" y="3" class="nm" textLength="7.6" lengthAdjust="spacingAndGlyphs">17</text></g></g>
<g transform="translate(319.9,388.4) rotate(0)"><rect x="-19.75" y="-18.5" width="39.5" height="37.0" class="bx"/><rect x="-18.0" y="-17.25" width="6" height="6" fill="#7b7b22"/><g transform="rotate(0 -1.5 -4.5)"><use href="#oc" x="-1.50" y="-4.50" fill="#007f00"/></g><g transform="translate(0,11.5) rotate(0)"><text x="0" y="3" class="lb" textLength="28.2" lengthAdjust="spacingAndGlyphs">LaBelle 1</text></g><g transform="translate(0,23.3) rotate(0) skewX(0.0)"><text x="0" y="3" class="nm" textLength="7.6" lengthAdjust="spacingAndGlyphs">18</text></g></g>
<g transform="translate(362.4,387.5) rotate(0)"><rect x="-19.75" y="-18.5" width="39.5" height="37.0" class="bx"/><g transform="rotate(0 0 -4.5)"><use href="#oc" x="0.00" y="-4.50" fill="#800080"/></g><g transform="translate(0,11.5) rotate(0)"><text x="0" y="3" class="lb" textLength="28.2" lengthAdjust="spacingAndGlyphs">LaBelle 2</text></g><g transform="translate(0,23.3) rotate(0) skewX(0.0)"><text x="0" y="3" class="nm" textLength="7.6" lengthAdjust="spacingAndGlyphs">19</text></g></g>
<g transform="translate(439,387.7) rotate(0)"><rect x="-19.75" y="-18.5" width="39.5" height="37.0" class="bx"/><rect x="-18.0" y="-17.25" width="6" height="6" fill="#7b7b22"/><rect x="-18.0" y="-10.05" width="6" height="6" fill="#ee8a5a"/><g transform="translate(0,11.5) rotate(0)"><text x="0" y="3" class="lb" textLength="28.2" lengthAdjust="spacingAndGlyphs">LaBelle 3</text></g><g transform="translate(0,23.3) rotate(0) skewX(0.0)"><text x="0" y="3" class="nm" textLength="7.6" lengthAdjust="spacingAndGlyphs">20</text></g></g>
<g transform="translate(481.6,388.3) rotate(0)"><rect x="-19.75" y="-18.5" width="39.5" height="37.0" class="bx"/><g transform="rotate(0 -2.5 -5.5)"><use href="#oc" x="-2.50" y="-5.50" fill="#007f00"/></g><g transform="translate(0,11.5) rotate(0)"><text x="0" y="3" class="lb" textLength="28.2" lengthAdjust="spacingAndGlyphs">Sodraas 1</text></g><g transform="translate(0,23.3) rotate(0) skewX(0.0)"><text x="0" y="3" class="nm" textLength="7.6" lengthAdjust="spacingAndGlyphs">21</text></g></g>
<g transform="translate(523.8,389) rotate(1)"><rect x="-19.75" y="-18.5" width="39.5" height="37.0" class="bx"/><g transform="rotate(-1 0 -4.5)"><use href="#oc" x="0.00" y="-4.50" fill="#007f00"/></g><g transform="translate(0,11.5) rotate(-1)"><text x="0" y="3" class="lb" textLength="28.2" lengthAdjust="spacingAndGlyphs">Sodraas 2</text></g><g transform="translate(0,23.3) rotate(-1) skewX(-0.5)"><text x="0" y="3" class="nm" textLength="7.6" lengthAdjust="spacingAndGlyphs">22</text></g></g>
<g transform="translate(320,447.2) rotate(0)"><rect x="-19.75" y="-18.5" width="39.5" height="37.0" class="bx"/><g transform="rotate(0 0 -4.5)"><use href="#oc" x="0.00" y="-4.50" fill="#007f00"/></g><g transform="translate(0,11.5) rotate(0)"><text x="0" y="3" class="lb" textLength="33.0" lengthAdjust="spacingAndGlyphs">Emeralda 5</text></g><g transform="translate(0,23.3) rotate(0) skewX(0.0)"><text x="0" y="3" class="nm" textLength="3.8" lengthAdjust="spacingAndGlyphs">5</text></g></g>
<g transform="translate(362.4,447) rotate(0)"><rect x="-19.75" y="-18.5" width="39.5" height="37.0" class="bx"/><g transform="rotate(0 0 -4.5)"><use href="#oc" x="0.00" y="-4.50" fill="#800080"/></g><g transform="translate(0,11.5) rotate(0)"><text x="0" y="3" class="lb" textLength="33.0" lengthAdjust="spacingAndGlyphs">Emeralda 6</text></g><g transform="translate(0,23.3) rotate(0) skewX(0.0)"><text x="0" y="3" class="nm" textLength="3.8" lengthAdjust="spacingAndGlyphs">6</text></g></g>
<g transform="translate(439,447) rotate(0)"><rect x="-19.75" y="-18.5" width="39.5" height="37.0" class="bx"/><g transform="rotate(0 -2 -5.7)"><use href="#oc" x="-2.00" y="-5.70" fill="#800080"/></g><g transform="translate(0,11.5) rotate(0)"><text x="0" y="3" class="lb" textLength="33.0" lengthAdjust="spacingAndGlyphs">Emeralda 7</text></g><g transform="translate(0,25.3) rotate(0) skewX(0.0)"><text x="0" y="3" class="nm" textLength="3.8" lengthAdjust="spacingAndGlyphs">7</text></g></g>
<g transform="translate(481.6,447.3) rotate(0)"><rect x="-19.75" y="-18.5" width="39.5" height="37.0" class="bx"/><g transform="rotate(0 0 -4.5)"><use href="#oc" x="0.00" y="-4.50" fill="#800080"/></g><g transform="translate(0,11.5) rotate(0)"><text x="0" y="3" class="lb" textLength="33.0" lengthAdjust="spacingAndGlyphs">Emeralda 8</text></g><g transform="translate(0,23.3) rotate(0) skewX(0.0)"><text x="0" y="3" class="nm" textLength="3.8" lengthAdjust="spacingAndGlyphs">8</text></g></g>
<g transform="translate(49.25,313) rotate(-11.7)"><rect x="-19.75" y="-18.5" width="39.5" height="37.0" class="bx"/><g transform="rotate(11.7 0 -5.2)"><use href="#oc" x="0.00" y="-5.20" fill="#0000ff"/></g><g transform="translate(-2.5,10.0) rotate(11.7)"><text x="0" y="3" class="lb" textLength="18.5" lengthAdjust="spacingAndGlyphs">Tora 3</text></g><g transform="translate(0,23.3) rotate(11.7) skewX(5.85)"><text x="0" y="3" class="nm" textLength="7.6" lengthAdjust="spacingAndGlyphs">41</text></g></g>
<g transform="translate(92.6,303) rotate(-12)"><rect x="-19.75" y="-18.5" width="39.5" height="37.0" class="bx"/><g transform="rotate(12 0 -5.2)"><use href="#oc" x="0.00" y="-5.20" fill="#ff0000"/></g><g transform="translate(0,10.0) rotate(12)"><text x="0" y="3" class="lb" textLength="28.7" lengthAdjust="spacingAndGlyphs">D&#39;jalbas 1</text></g><g transform="translate(0,23.3) rotate(12) skewX(6.0)"><text x="0" y="3" class="nm" textLength="7.6" lengthAdjust="spacingAndGlyphs">42</text></g></g>
<g transform="translate(51,373) rotate(-13)"><rect x="-19.75" y="-18.5" width="39.5" height="37.0" class="bx"/><g transform="rotate(13 0 -5.2)"><use href="#oc" x="0.00" y="-5.20" fill="#800080"/></g><g transform="translate(0,10.0) rotate(13)"><text x="0" y="3" class="ls" textLength="29.3" lengthAdjust="spacingAndGlyphs">E Minor 4</text></g><g transform="translate(0,23.3) rotate(13) skewX(6.5)"><text x="0" y="3" class="nm" textLength="7.6" lengthAdjust="spacingAndGlyphs">27</text></g></g>
<g transform="translate(93.25,362.6) rotate(-12.8)"><rect x="-19.75" y="-18.5" width="39.5" height="37.0" class="bx"/><g transform="rotate(12.8 0 -5.2)"><use href="#oc" x="0.00" y="-5.20" fill="#800080"/></g><g transform="translate(0,10.0) rotate(12.8)"><text x="0" y="3" class="ls" textLength="29.3" lengthAdjust="spacingAndGlyphs">E Minor 5</text></g><g transform="translate(0,23.3) rotate(12.8) skewX(6.4)"><text x="0" y="3" class="nm" textLength="7.6" lengthAdjust="spacingAndGlyphs">28</text></g></g>
<g transform="translate(135.8,352.8) rotate(-13)"><rect x="-19.75" y="-18.5" width="39.5" height="37.0" class="bx"/><g transform="rotate(13 3 -5.2)"><use href="#oc" x="3.00" y="-5.20" fill="#800080"/></g><g transform="translate(-2.5,10.0) rotate(13)"><text x="0" y="3" class="ls" textLength="29.3" lengthAdjust="spacingAndGlyphs">E Minor 6</text></g><g transform="translate(0,23.3) rotate(13) skewX(6.5)"><text x="0" y="3" class="nm" textLength="7.6" lengthAdjust="spacingAndGlyphs">29</text></g></g>
<g transform="translate(36,436.7) rotate(-12)"><rect x="-19.75" y="-18.5" width="39.5" height="37.0" class="bx"/><g transform="rotate(12 0 -5.2)"><use href="#oc" x="0.00" y="-5.20" fill="#800080"/></g><g transform="translate(0,10.0) rotate(12)"><text x="0" y="3" class="lb" textLength="32.2" lengthAdjust="spacingAndGlyphs">Garbháin 2</text></g><g transform="translate(0,23.3) rotate(12) skewX(6.0)"><text x="0" y="3" class="nm" textLength="7.6" lengthAdjust="spacingAndGlyphs">13</text></g></g>
<g transform="translate(79,427) rotate(-12.7)"><rect x="-19.75" y="-18.5" width="39.5" height="37.0" class="bx"/><g transform="rotate(12.7 0 -5.2)"><use href="#oc" x="0.00" y="-5.20" fill="#800080"/></g><g transform="translate(0,10.0) rotate(12.7)"><text x="0" y="3" class="lb" textLength="32.2" lengthAdjust="spacingAndGlyphs">Garbháin 3</text></g><g transform="translate(0,23.3) rotate(12.7) skewX(6.35)"><text x="0" y="3" class="nm" textLength="7.6" lengthAdjust="spacingAndGlyphs">14</text></g></g>
<g transform="translate(121.4,417) rotate(-13)"><rect x="-19.75" y="-18.5" width="39.5" height="37.0" class="bx"/><g transform="rotate(13 0 -5.2)"><use href="#oc" x="0.00" y="-5.20" fill="#0000ff"/></g><g transform="translate(0,10.0) rotate(13)"><text x="0" y="3" class="lb" textLength="19.9" lengthAdjust="spacingAndGlyphs">Titus 1</text></g><g transform="translate(0,23.3) rotate(13) skewX(6.5)"><text x="0" y="3" class="nm" textLength="7.6" lengthAdjust="spacingAndGlyphs">15</text></g></g>
<g transform="translate(163.8,406.6) rotate(-13.5)"><rect x="-19.75" y="-18.5" width="39.5" height="37.0" class="bx"/><g transform="rotate(13.5 0 -5.2)"><use href="#oc" x="0.00" y="-5.20" fill="#800080"/></g><g transform="translate(0,10.0) rotate(13.5)"><text x="0" y="3" class="lb" textLength="19.9" lengthAdjust="spacingAndGlyphs">Titus 2</text></g><g transform="translate(0,23.3) rotate(13.5) skewX(6.75)"><text x="0" y="3" class="nm" textLength="7.6" lengthAdjust="spacingAndGlyphs">16</text></g></g>
<g transform="translate(78,484.8) rotate(-12.6)"><rect x="-19.75" y="-18.5" width="39.5" height="37.0" class="bx"/><rect x="-18.0" y="-17.25" width="6" height="6" fill="#7b7b22"/><g transform="rotate(12.6 -1.5 -5.2)"><use href="#oc" x="-1.50" y="-5.20" fill="#007f00"/></g><g transform="translate(0,10.0) rotate(12.6)"><text x="0" y="3" class="lb" textLength="33.0" lengthAdjust="spacingAndGlyphs">Emeralda 1</text></g><g transform="translate(0,23.3) rotate(12.6) skewX(6.3)"><text x="0" y="3" class="nm" textLength="3.8" lengthAdjust="spacingAndGlyphs">1</text></g></g>
<g transform="translate(120,475) rotate(-12.9)"><rect x="-19.75" y="-18.5" width="39.5" height="37.0" class="bx"/><g transform="rotate(12.9 0 -5.2)"><use href="#oc" x="0.00" y="-5.20" fill="#007f00"/></g><g transform="translate(0,10.0) rotate(12.9)"><text x="0" y="3" class="lb" textLength="33.0" lengthAdjust="spacingAndGlyphs">Emeralda 2</text></g><g transform="translate(0,23.3) rotate(12.9) skewX(6.45)"><text x="0" y="3" class="nm" textLength="3.8" lengthAdjust="spacingAndGlyphs">2</text></g></g>
<g transform="translate(162.2,465) rotate(-12.2)"><rect x="-19.75" y="-18.5" width="39.5" height="37.0" class="bx"/><g transform="rotate(12.2 0 -5.2)"><use href="#oc" x="0.00" y="-5.20" fill="#800080"/></g><g transform="translate(0,10.0) rotate(12.2)"><text x="0" y="3" class="lb" textLength="33.0" lengthAdjust="spacingAndGlyphs">Emeralda 3</text></g><g transform="translate(0,23.3) rotate(12.2) skewX(6.1)"><text x="0" y="3" class="nm" textLength="3.8" lengthAdjust="spacingAndGlyphs">3</text></g></g>
<g transform="translate(205.8,455.6) rotate(-11.3)"><rect x="-19.75" y="-18.5" width="39.5" height="37.0" class="bx"/><g transform="rotate(11.3 0 -5.2)"><use href="#oc" x="0.00" y="-5.20" fill="#800080"/></g><g transform="translate(0,10.0) rotate(11.3)"><text x="0" y="3" class="lb" textLength="33.0" lengthAdjust="spacingAndGlyphs">Emeralda 4</text></g><g transform="translate(0,23.3) rotate(11.3) skewX(5.65)"><text x="0" y="3" class="nm" textLength="3.8" lengthAdjust="spacingAndGlyphs">4</text></g></g>
<g transform="translate(709.2,303.75) rotate(12.6)"><rect x="-19.75" y="-18.5" width="39.5" height="37.0" class="bx"/><rect x="-18.0" y="-17.25" width="6" height="6" fill="#7b7b22"/><g transform="rotate(-12.6 -2.7 -5.2)"><use href="#oc" x="-2.70" y="-5.20" fill="#007f00"/></g><g transform="translate(0,10.0) rotate(-12.6)"><text x="0" y="3" class="lb" textLength="32.2" lengthAdjust="spacingAndGlyphs">Socharen 1</text></g><g transform="translate(0,23.3) rotate(-12.6) skewX(-6.3)"><text x="0" y="3" class="nm" textLength="7.6" lengthAdjust="spacingAndGlyphs">53</text></g></g>
<g transform="translate(752,313.75) rotate(12.5)"><rect x="-19.75" y="-18.5" width="39.5" height="37.0" class="bx"/><g transform="rotate(-12.5 -1.2 -5.2)"><use href="#oc" x="-1.20" y="-5.20" fill="#007f00"/></g><g transform="translate(0,10.0) rotate(-12.5)"><text x="0" y="3" class="lb" textLength="32.2" lengthAdjust="spacingAndGlyphs">Socharen 2</text></g><g transform="translate(0,23.3) rotate(-12.5) skewX(-6.25)"><text x="0" y="3" class="nm" textLength="7.6" lengthAdjust="spacingAndGlyphs">54</text></g></g>
<g transform="translate(665.3,353.25) rotate(13)"><rect x="-19.75" y="-18.5" width="39.5" height="37.0" class="bx"/><g transform="rotate(-13 -1.2 -5.2)"><use href="#oc" x="-1.20" y="-5.20" fill="#007f00"/></g><g transform="translate(0,10.0) rotate(-13)"><text x="0" y="3" class="lb" textLength="32.2" lengthAdjust="spacingAndGlyphs">Brindann 3</text></g><g transform="translate(0,23.3) rotate(-13) skewX(-6.5)"><text x="0" y="3" class="nm" textLength="7.6" lengthAdjust="spacingAndGlyphs">38</text></g></g>
<g transform="translate(708,363.6) rotate(12)"><rect x="-19.75" y="-18.5" width="39.5" height="37.0" class="bx"/><g transform="rotate(-12 -1.2 -5.2)"><use href="#oc" x="-1.20" y="-5.20" fill="#ff0000"/></g><g transform="translate(0,10.0) rotate(-12)"><text x="0" y="3" class="lb" textLength="18.5" lengthAdjust="spacingAndGlyphs">Tora 1</text></g><g transform="translate(0,23.3) rotate(-12) skewX(-6.0)"><text x="0" y="3" class="nm" textLength="7.6" lengthAdjust="spacingAndGlyphs">39</text></g></g>
<g transform="translate(751,373.5) rotate(12.7)"><rect x="-19.75" y="-18.5" width="39.5" height="37.0" class="bx"/><g transform="rotate(-12.7 -1.2 -5.2)"><use href="#oc" x="-1.20" y="-5.20" fill="#0000ff"/></g><g transform="translate(0,10.0) rotate(-12.7)"><text x="0" y="3" class="lb" textLength="18.5" lengthAdjust="spacingAndGlyphs">Tora 2</text></g><g transform="translate(0,23.3) rotate(-12.7) skewX(-6.35)"><text x="0" y="3" class="nm" textLength="7.6" lengthAdjust="spacingAndGlyphs">40</text></g></g>
<g transform="translate(638.2,407.8) rotate(12)"><rect x="-19.75" y="-18.5" width="39.5" height="37.0" class="bx"/><rect x="-18.0" y="-17.25" width="6" height="6" fill="#ee8a5a"/><g transform="rotate(-12 -2.7 -5.2)"><use href="#oc" x="-2.70" y="-5.20" fill="#800080"/></g><g transform="translate(0,10.0) rotate(-12)"><text x="0" y="3" class="lb" textLength="28.2" lengthAdjust="spacingAndGlyphs">Sodraas 3</text></g><g transform="translate(0,23.3) rotate(-12) skewX(-6.0)"><text x="0" y="3" class="nm" textLength="7.6" lengthAdjust="spacingAndGlyphs">23</text></g></g>
<g transform="translate(680.7,416.25) rotate(13)"><rect x="-19.75" y="-18.5" width="39.5" height="37.0" class="bx"/><g transform="rotate(-13 -1.2 -5.2)"><use href="#oc" x="-1.20" y="-5.20" fill="#007f00"/></g><g transform="translate(0,10.0) rotate(-13)"><text x="0" y="3" class="lb" textLength="29.6" lengthAdjust="spacingAndGlyphs">E Minor 1</text></g><g transform="translate(0,23.3) rotate(-13) skewX(-6.5)"><text x="0" y="3" class="nm" textLength="7.6" lengthAdjust="spacingAndGlyphs">24</text></g></g>
<g transform="translate(723.4,427) rotate(13.5)"><rect x="-19.75" y="-18.5" width="39.5" height="37.0" class="bx"/><g transform="rotate(-13.5 -1.2 -5.2)"><use href="#oc" x="-1.20" y="-5.20" fill="#007f00"/></g><g transform="translate(0,10.0) rotate(-13.5)"><text x="0" y="3" class="lb" textLength="29.6" lengthAdjust="spacingAndGlyphs">E Minor 2</text></g><g transform="translate(0,23.3) rotate(-13.5) skewX(-6.75)"><text x="0" y="3" class="nm" textLength="7.6" lengthAdjust="spacingAndGlyphs">25</text></g></g>
<g transform="translate(766,437) rotate(13)"><rect x="-19.75" y="-18.5" width="39.5" height="37.0" class="bx"/><g transform="rotate(-13 -1.2 -5.2)"><use href="#oc" x="-1.20" y="-5.20" fill="#007f00"/></g><g transform="translate(0,10.0) rotate(-13)"><text x="0" y="3" class="lb" textLength="29.6" lengthAdjust="spacingAndGlyphs">E Minor 3</text></g><g transform="translate(0,23.3) rotate(-13) skewX(-6.5)"><text x="0" y="3" class="nm" textLength="7.6" lengthAdjust="spacingAndGlyphs">26</text></g></g>
<g transform="translate(595,457.5) rotate(9)"><rect x="-19.75" y="-18.5" width="39.5" height="37.0" class="bx"/><g transform="rotate(-9 0 -4.5)"><use href="#oc" x="0.00" y="-4.50" fill="#007f00"/></g><g transform="translate(0,11.5) rotate(-9)"><text x="0" y="3" class="lb" textLength="21.8" lengthAdjust="spacingAndGlyphs">Saiko 1</text></g><g transform="translate(0,23.3) rotate(-9) skewX(-4.5)"><text x="0" y="3" class="nm" textLength="3.8" lengthAdjust="spacingAndGlyphs">9</text></g></g>
<g transform="translate(638,466.25) rotate(12.2)"><rect x="-19.75" y="-18.5" width="39.5" height="37.0" class="bx"/><g transform="rotate(-12.2 -1.2 -5.2)"><use href="#oc" x="-1.20" y="-5.20" fill="#800080"/></g><g transform="translate(0,10.0) rotate(-12.2)"><text x="0" y="3" class="lb" textLength="21.8" lengthAdjust="spacingAndGlyphs">Saiko 2</text></g><g transform="translate(0,23.3) rotate(-12.2) skewX(-6.1)"><text x="0" y="3" class="nm" textLength="7.6" lengthAdjust="spacingAndGlyphs">10</text></g></g>
<g transform="translate(681,474.5) rotate(11)"><rect x="-19.75" y="-18.5" width="39.5" height="37.0" class="bx"/><g transform="rotate(-11 -1.2 -5.2)"><use href="#oc" x="-1.20" y="-5.20" fill="#800080"/></g><g transform="translate(0,10.0) rotate(-11)"><text x="0" y="3" class="lb" textLength="21.8" lengthAdjust="spacingAndGlyphs">Saiko 3</text></g><g transform="translate(0,23.3) rotate(-11) skewX(-5.5)"><text x="0" y="3" class="nm" textLength="7.6" lengthAdjust="spacingAndGlyphs">11</text></g></g>
<g transform="translate(723.75,482.2) rotate(12.7)"><rect x="-19.75" y="-18.5" width="39.5" height="37.0" class="bx"/><g transform="rotate(-12.7 -1.2 -5.2)"><use href="#oc" x="-1.20" y="-5.20" fill="#800080"/></g><g transform="translate(0,10.0) rotate(-12.7)"><text x="0" y="3" class="lb" textLength="32.2" lengthAdjust="spacingAndGlyphs">Garbháin 1</text></g><g transform="translate(0,23.3) rotate(-12.7) skewX(-6.35)"><text x="0" y="3" class="nm" textLength="7.6" lengthAdjust="spacingAndGlyphs">12</text></g></g>
<rect x="366" y="503.5" width="68.5" height="15" fill="none" stroke="#333" stroke-width="1.5"/><text x="399" y="512.5" class="sp" textLength="37" lengthAdjust="spacingAndGlyphs">SPEAKER</text><rect x="378.25" y="535.25" width="39.5" height="37.0" class="bx"/><use href="#oc" x="398.00" y="552.80" fill="#007f00"/><text x="396" y="584" class="bl" textLength="59" lengthAdjust="spacingAndGlyphs">Prime Minister</text><rect x="161.75" y="597.75" width="39.5" height="37.0" class="bx"/><use href="#oc" x="180.00" y="615.55" fill="#808080"/><text x="179.6" y="645" class="bl" textLength="23" lengthAdjust="spacingAndGlyphs">C &amp; C</text><rect x="225.95" y="598.55" width="39.5" height="37.0" class="bx"/><use href="#oc" x="245.70" y="616.35" fill="#808080"/><text x="246" y="645" class="bl" textLength="52" lengthAdjust="spacingAndGlyphs">Prefect Patris</text><rect x="316.35" y="599.15" width="39.5" height="37.0" class="bx"/><use href="#oc" x="334.60" y="616.95" fill="#800080"/><text x="334" y="645" class="bl" textLength="43" lengthAdjust="spacingAndGlyphs">Chancellor</text><rect x="379.15" y="599.15" width="39.5" height="37.0" class="bx"/><use href="#oc" x="397.40" y="616.95" fill="#800080"/><text x="398.4" y="645" class="bl" textLength="33" lengthAdjust="spacingAndGlyphs">Emperor</text><rect x="442.0" y="599.55" width="39.5" height="37.0" class="bx"/><use href="#oc" x="460.05" y="617.35" fill="#007f00"/><text x="462.5" y="645" class="bl" textLength="29" lengthAdjust="spacingAndGlyphs">Viceroy</text><rect x="508.75" y="599.55" width="39.5" height="37.0" class="bx"/><use href="#oc" x="526.30" y="617.35" fill="#800080"/><text x="528.75" y="645" class="bl" textLength="36" lengthAdjust="spacingAndGlyphs">Quaestor</text><text x="527" y="655" class="sb" textLength="35" lengthAdjust="spacingAndGlyphs">Esmeralda</text><rect x="572.0" y="599.55" width="39.5" height="37.0" class="bx"/><use href="#oc" x="590.05" y="617.35" fill="#ff0000"/><text x="591.25" y="645" class="bl" textLength="36" lengthAdjust="spacingAndGlyphs">Quaestor</text><text x="589.5" y="655" class="sb" textLength="41" lengthAdjust="spacingAndGlyphs">Anhangaba&#250;</text><rect x="636.25" y="600.25" width="39.5" height="37.0" class="bx"/><use href="#oc" x="654.50" y="618.05" fill="#800080"/><text x="656.25" y="645" class="bl" textLength="36" lengthAdjust="spacingAndGlyphs">Quaestor</text><text x="653.75" y="655" class="sb" textLength="16" lengthAdjust="spacingAndGlyphs">Uma</text><rect x="699.5" y="600.25" width="39.5" height="37.0" class="bx"/><use href="#oc" x="717.55" y="618.05" fill="#0000ff"/><text x="718.75" y="645" class="bl" textLength="36" lengthAdjust="spacingAndGlyphs">Quaestor</text><text x="717.5" y="655" class="sb" textLength="27.5" lengthAdjust="spacingAndGlyphs">Pretoria</text><rect x="755.75" y="601.05" width="39.5" height="37.0" class="bx"/><use href="#oc" x="774.50" y="618.85" fill="#ff8000"/><text x="775" y="645" class="bl" textLength="36" lengthAdjust="spacingAndGlyphs">Quaestor</text><text x="773.75" y="655" class="sb" textLength="20" lengthAdjust="spacingAndGlyphs">Berra</text><polyline points="437.5,623 437.5,586.8 798.5,586.8 798.5,626" fill="none" stroke="#888" stroke-width="1"/><text x="581" y="585.5" class="cc" textLength="78" lengthAdjust="spacingAndGlyphs">CURIATE COUNCIL</text>
</svg>
</body></html>
